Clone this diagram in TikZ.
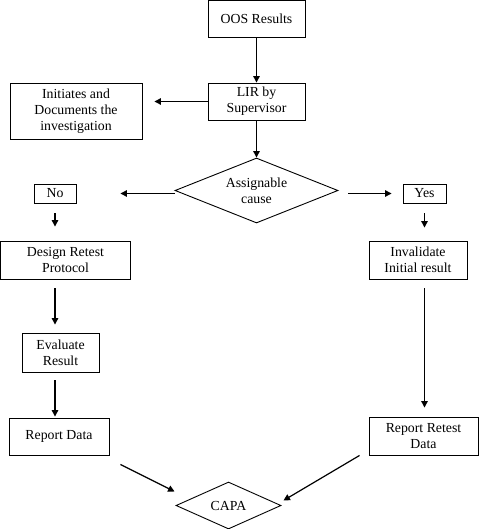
\documentclass[tikz,border=0pt]{standalone}
\usepackage{fontspec}
\setmainfont{Liberation Serif}
\usetikzlibrary{shapes.geometric,arrows.meta}

\begin{document}
\begin{tikzpicture}[x=1pt,y=-1pt,
        font=\fontsize{13.8}{16}\selectfont,
        box/.style={shape=rectangle,draw=black,line width=0.9pt,align=center,inner sep=0pt},
        choice/.style={shape=diamond,draw=black,line width=0.9pt,align=center,inner sep=0pt,shape aspect=2.5},
        arr/.style={-{Triangle[length=6.5pt,width=6.5pt]},line width=1.2pt}]
                \useasboundingbox (0,0) rectangle (479,529);
                \node[box,minimum width=97pt,minimum height=37pt] (oos) at (256.5,18.5) {OOS Results};
                \node[box,minimum width=97pt,minimum height=37pt] (lir) at (256.5,101.5) {LIR by\\Supervisor};
                \node[box,minimum width=132pt,minimum height=56pt] (init) at (76,111) {Initiates and\\Documents the\\investigation};
                \node[choice,minimum width=163pt,minimum height=65pt] (assign) at (256.5,190.5) {Assignable\\cause};
                \node[box,minimum width=42pt,minimum height=19pt] (no) at (55,193.5) {No};
                \node[box,minimum width=43pt,minimum height=19pt] (yes) at (424.5,193.5) {Yes};
                \node[box,minimum width=130pt,minimum height=38pt] (design) at (65.5,260) {Design Retest\\Protocol};
                \node[box,minimum width=98pt,minimum height=38pt] (inval) at (418,260) {Invalidate\\Initial result};
                \node[box,minimum width=77pt,minimum height=39pt] (eval) at (60.5,352.5) {Evaluate\\Result};
                \node[box,minimum width=100pt,minimum height=37pt] (report) at (59,436.5) {Report Data};
                \node[box,minimum width=109pt,minimum height=38pt] (retest) at (423.5,436) {Report Retest\\Data};
                \node[choice,minimum width=105pt,minimum height=47pt] (capa) at (228.5,505.5) {CAPA};
                \path [arr] (oos.south) edge (lir.north);
                \path [arr] (lir.west) edge[shorten >=12pt] (lir.west -| init.east);
                \path [arr] (lir.south) edge (assign.north);
                \path [arr] (assign.west |- no) edge[shorten >=44pt] (no.east);
                \path [arr] (assign.east |- yes) edge[shorten <=10pt,shorten >=11pt] (yes.west);
                \path [arr] (no.south) edge[shorten <=10pt,shorten >=14pt] (no.south |- design.north);
                \path [arr] (yes.south) edge[shorten <=10pt,shorten >=13pt] (yes.south |- inval.north);
                \path [arr] (design.south -| no) edge[shorten <=9pt,shorten >=8pt] (eval.north -| no);
                \path [arr] (eval.south -| no) edge[shorten <=8pt,shorten >=1pt] (report.north -| no);
                \path [arr] (inval.south -| yes) edge[shorten <=9pt,shorten >=9pt] (retest.north -| yes);
                \path [arr] ([xshift=11pt,yshift=-9pt]report.south east) edge ([xshift=-1pt,yshift=14pt]capa.west);
                \path [arr] ([xshift=-9pt]retest.south west) edge ([xshift=2pt,yshift=5pt]capa.east);
\end{tikzpicture}
\end{document}
